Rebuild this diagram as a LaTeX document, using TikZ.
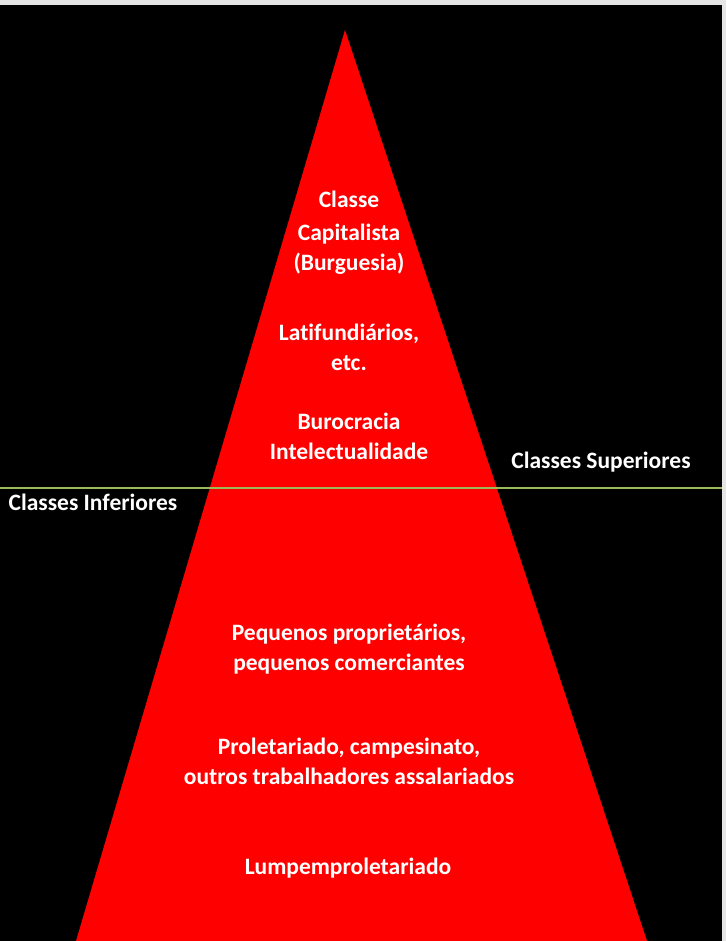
\documentclass[tikz,border=0pt]{standalone}
\usepackage{fontspec}
\setmainfont[Ligatures=NoCommon]{Carlito}
\begin{document}
\begin{tikzpicture}[x=1pt,y=-1pt,
  lbl/.style={text=white,font=\bfseries\fontsize{23.5}{30}\selectfont,align=center,inner sep=0pt}]
\useasboundingbox (0,0) rectangle (726,941);
\fill[gray!20] (0,0) rectangle (726,941);
\fill[black] (0,5) rectangle (722,941);
\fill[red] (345,30) -- (647,941) -- (76,941) -- cycle;
\coordinate (l) at (0,488);
\coordinate (r) at (722,488);
\draw[color={rgb,255:red,155;green,187;blue,89},line width=1.5pt] (l) -- (r);
\node[lbl] (a) at (349,199) {Classe};
\node[lbl] (b) at (349,249) {Capitalista\\(Burguesia)};
\node[lbl] (c) at (349,347) {Latifundiários,\\etc.};
\node[lbl] (d) at (349,436) {Burocracia\\Intelectualidade};
\node[lbl] (e) at (601,462) {Classes Superiores};
\node[lbl] (f) at (93,502) {Classes Inferiores};
\node[lbl] (g) at (349,649) {Pequenos proprietários,\\pequenos comerciantes};
\node[lbl] (h) at (349,761) {Proletariado, campesinato,\\outros trabalhadores assalariados};
\node[lbl] (i) at (348,868) {Lumpemproletariado};
\end{tikzpicture}
\end{document}
